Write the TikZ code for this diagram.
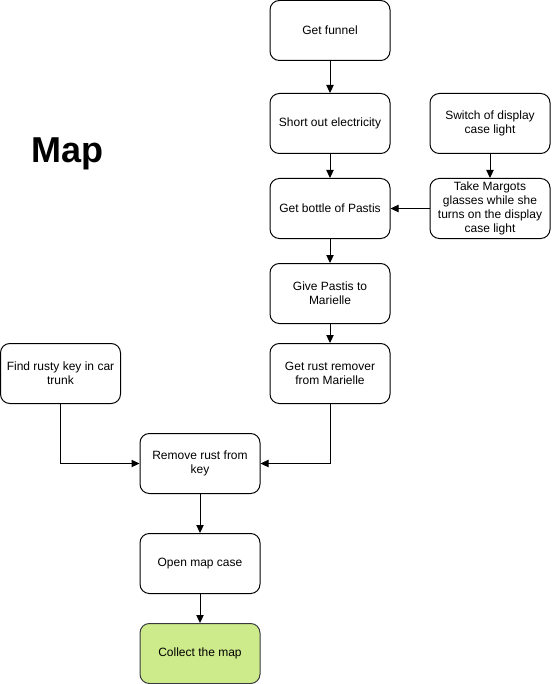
\documentclass[tikz,border=0pt]{standalone}
\usepackage{fontspec}
\setmainfont{Liberation Sans}
\usetikzlibrary{arrows.meta}
\definecolor{mapgreen}{HTML}{CDEB8B}
\definecolor{mapgreenline}{HTML}{36393D}
\begin{document}
\begin{tikzpicture}[x=0.75pt, y=-0.75pt, font=\fontsize{9}{10.5}\selectfont]
      \tikzset{
	  stepbox/.style={draw=black, line width=0.75pt, rounded corners=7pt, minimum width=90pt, minimum height=45pt, align=center, inner sep=0pt, fill=white},
	  link/.style={draw=black, line width=0.75pt, -{Triangle[length=6pt, width=5.5pt]}}
      }
      \useasboundingbox (0,0) rectangle (551,684);

      \node[font=\fontsize{27}{30}\selectfont\bfseries] (title) at (67.5,154) {Map};

      \node[stepbox] (funnel) at (330,30.5) {Get funnel};
      \node[stepbox] (short) at (330,123.5) {Short out electricity};
      \node[stepbox] (switch) at (490,123.5) {Switch of display\\case light};
      \node[stepbox] (pastis) at (330,208.5) {Get bottle of Pastis};
      \node[stepbox] (margot) at (490,208.5) {Take Margots\\glasses while she\\turns on the display\\case light};
      \node[stepbox] (give) at (330,293.5) {Give Pastis to\\Marielle};
      \node[stepbox] (remover) at (330,373.5) {Get rust remover\\from Marielle};
      \node[stepbox] (findkey) at (60.5,373.5) {Find rusty key in car\\trunk};
      \node[stepbox] (rust) at (200,463.5) {Remove rust from\\key};
      \node[stepbox] (open) at (200,563.5) {Open map case};
      \node[stepbox, fill=mapgreen, draw=mapgreenline] (collect) at (200,653.5) {Collect the map};

      \draw[link] (funnel) -- (short);
      \draw[link] (short) -- (pastis);
      \draw[link] (switch) -- (margot);
      \draw[link] (margot) -- (pastis);
      \draw[link] (pastis) -- (give);
      \draw[link] (give) -- (remover);
      \draw[link] (findkey.south) |- (rust.west);
      \draw[link] (remover.south) |- (rust.east);
      \draw[link] (rust) -- (open);
      \draw[link] (open) -- (collect);
\end{tikzpicture}
\end{document}
